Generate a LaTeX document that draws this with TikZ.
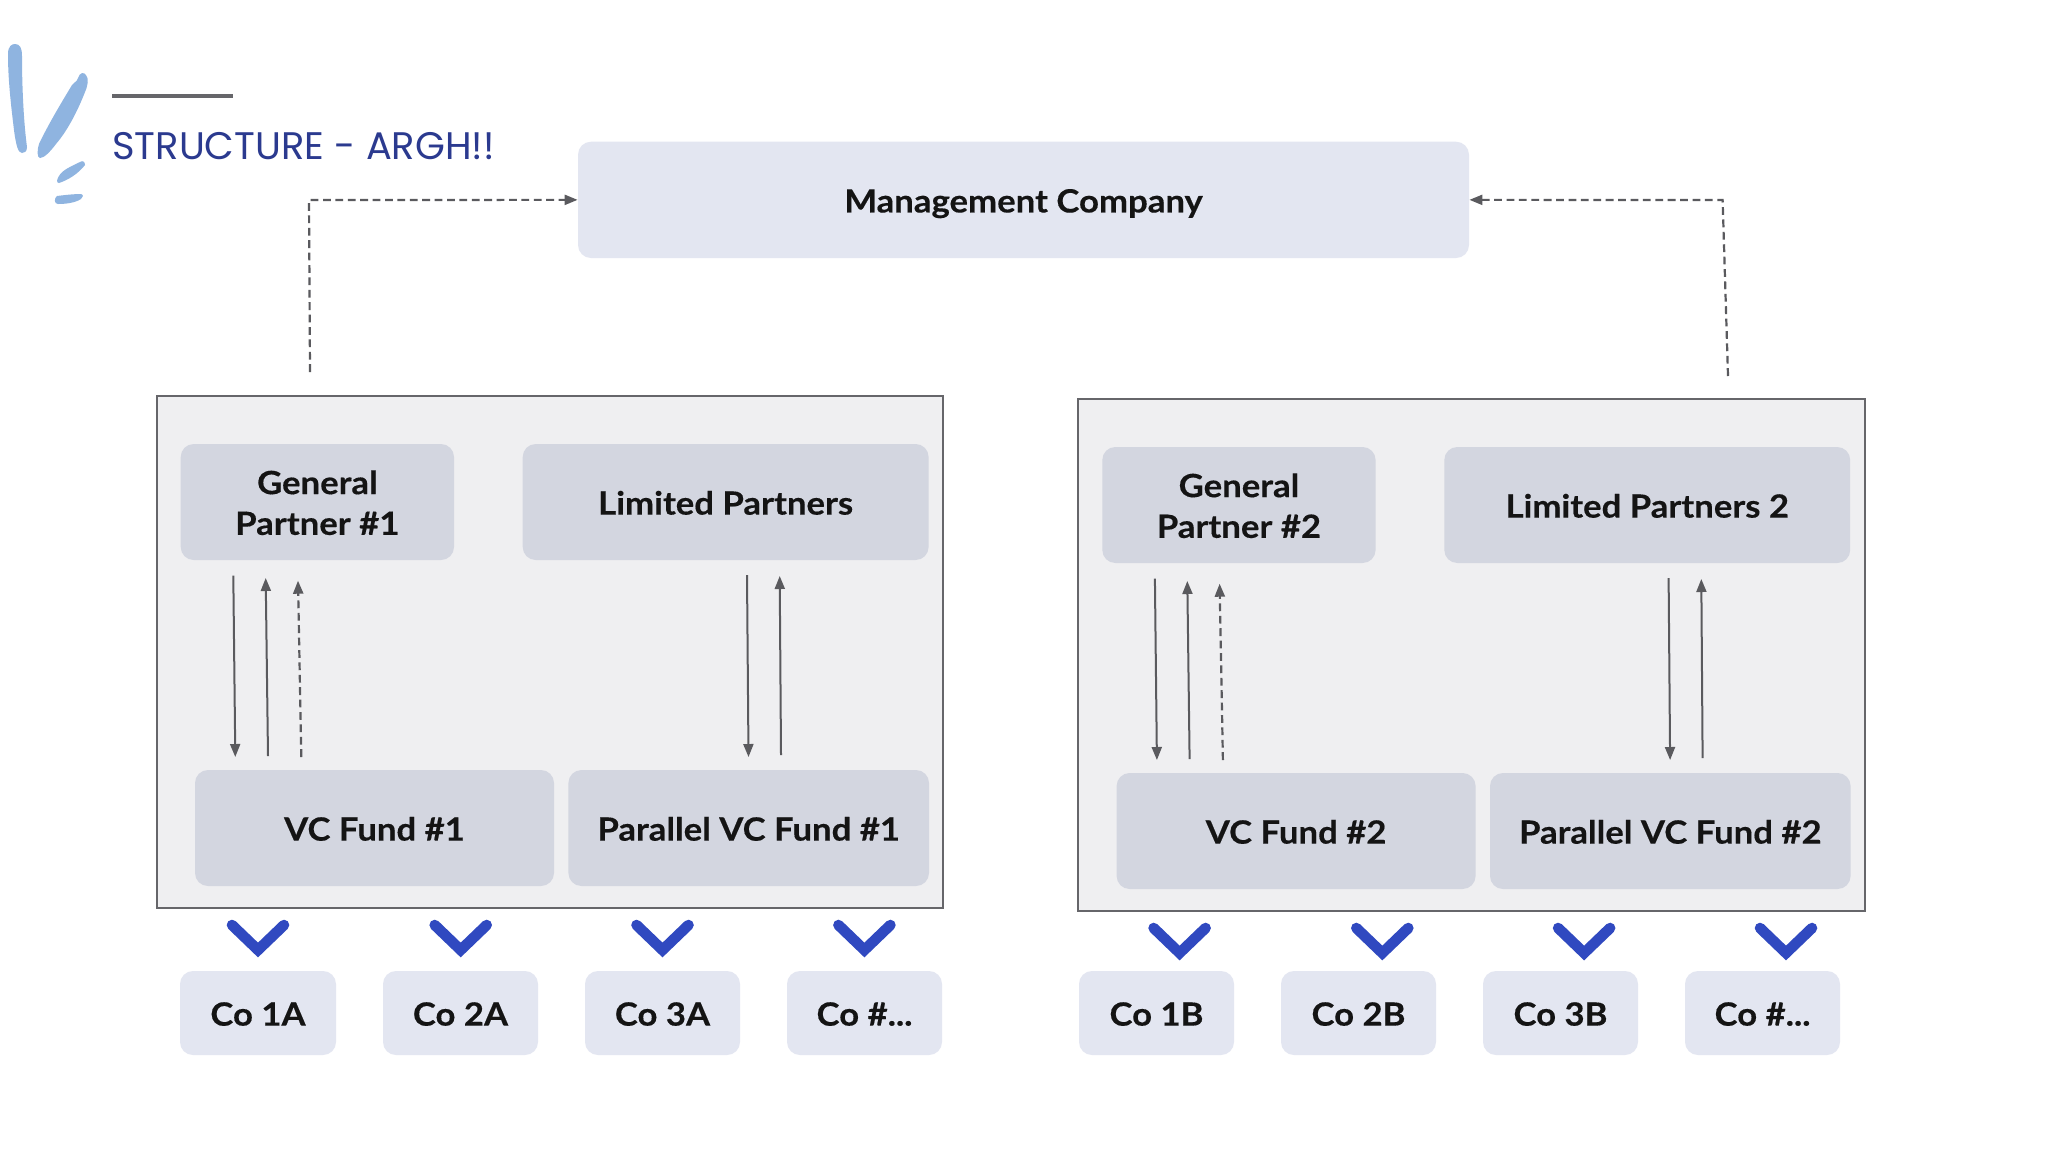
\documentclass[tikz,border=0pt]{standalone}
\usepackage{fontspec}
\setmainfont[BoldFeatures={FakeStretch=1.085,FakeBold=0.35}]{Lato}
\newfontfamily\titlefont{Poppins}
\usetikzlibrary{arrows.meta}
\definecolor{lightbox}{HTML}{E3E6F1}
\definecolor{midbox}{HTML}{D3D6E0}
\definecolor{framefill}{HTML}{EFEFF1}
\definecolor{framedraw}{HTML}{66666A}
\definecolor{chev}{HTML}{3049C0}
\definecolor{conn}{HTML}{5A5A5E}
\definecolor{scrib}{HTML}{8FB4E0}
\definecolor{titleblue}{HTML}{2B3A8F}
\tikzset{
  lbl/.style={font=\fontsize{16}{20.35}\selectfont\bfseries,text=black!92,align=center,inner sep=0pt,rounded corners=6.5pt},
  oneline/.style={text height=12.6pt,text depth=0pt},
  cobox/.style={lbl,oneline,fill=lightbox},
  inbox/.style={lbl,oneline,fill=midbox},
  twobox/.style={lbl,fill=midbox},
  frame/.style={draw=framedraw,fill=framefill,line width=0.9pt,inner sep=0pt},
  solidarrow/.style={draw=conn,line width=1pt,-{Triangle[length=6.5pt,width=5pt]}},
  dasharrow/.style={draw=conn,line width=1.1pt,dash pattern=on 3.9pt off 2.3pt,-{Triangle[length=6.5pt,width=5pt]}},
  chevron/.style={draw=chev,line width=5.3pt,line cap=round,line join=miter},
  scribble/.style={fill=scrib,draw=none}
}
\newcommand\bx[7]{\node[#2,minimum width={(#5-#3)*0.5pt},minimum height={(#6-#4)*0.5pt}] (#1) at ({(#3+#5)/2},{(#4+#6)/2}) {#7};}
\newcommand\chv[2]{\draw[chevron] (#1-26,#2-25) -- (#1,#2) -- (#1+26,#2-25);}
\newcommand\arw[6]{\coordinate (#1s) at (#3,#4); \coordinate (#1e) at (#5,#6); \draw[#2] (#1s) -- (#1e);}
\newcommand\fundgroup[2]{%
  \bx{frame#1}{frame}{156.7}{396}{943}{908}{}
  \bx{gp#1}{twobox}{180.7}{444}{454}{560}{\rule{0pt}{12.6pt}General\\Partner \##1}
  \bx{lp#1}{inbox}{522.7}{444}{928.6}{560}{#2}
  \bx{vc#1}{inbox}{195}{770}{554}{886}{VC Fund \##1}
  \bx{pv#1}{inbox}{568.4}{770}{929}{886}{Parallel VC Fund \##1}
  \arw{a#1}{solidarrow}{233.3}{575.7}{235.3}{757}
  \arw{b#1}{solidarrow}{268}{756}{265.7}{578}
  \arw{c#1}{dasharrow}{301.3}{757}{298}{580.7}
  \arw{d#1}{solidarrow}{747}{575}{748.5}{757}
  \arw{f#1}{solidarrow}{781}{755}{779.7}{576}
  \chv{258}{950}\chv{460.7}{950}\chv{662.5}{950}\chv{864.4}{950}
}
\begin{document}
\begin{tikzpicture}[x=0.5pt,y=-0.5pt]
\useasboundingbox[fill=white] (0,0) rectangle (2048,1152);
% scribble
\fill[scribble] (8,54) .. controls (8,46) and (12,44) .. (15,44) .. controls (20,44) and (22,48) .. (22,56) .. controls (22,90) and (24,125) .. (27,147) .. controls (27,152) and (24,153) .. (22,153) .. controls (18,153) and (16,145) .. (14,130) .. controls (11,105) and (8,80) .. cycle;
\fill[scribble] (78,78) .. controls (80,72) and (84,72) .. (86,75) .. controls (89,79) and (88,85) .. (85,92) .. controls (78,110) and (68,130) .. (56,144) .. controls (50,152) and (44,158) .. (40,158) .. controls (37,158) and (37,150) .. (39,144) .. controls (48,125) and (60,105) .. (72,85) .. controls (74,82) and (77,82) .. cycle;
\fill[scribble] (80,162) .. controls (83,160) and (85,162) .. (85,165) .. controls (78,174) and (68,180) .. (59,183) .. controls (56,183) and (57,179) .. (59,176) .. controls (62,170) and (72,166) .. cycle;
\fill[scribble] (57,196) .. controls (65,195) and (74,194) .. (81,194) .. controls (84,195) and (83,197) .. (81,199) .. controls (75,203) and (65,204) .. (58,204) .. controls (54,204) and (54,198) .. cycle;
% heading
\fill[framedraw] (112,94) rectangle (233,98);
\node[anchor=base west,inner sep=0pt,text=titleblue,font=\titlefont\fontsize{19.2}{23}\selectfont] (title) at (112,159.5) {STRUCTURE - ARGH!!};
% management
\bx{mc}{cobox}{578}{141.7}{1469}{258}{Management Company}
\coordinate (lstart) at (310,372);
\coordinate (lcorner) at (309,200);
\coordinate (rstart) at (1728,376);
\coordinate (rcorner) at (1722.6,200);
\draw[dasharrow] (lstart) -- (lcorner) -- (mc.west);
\draw[dasharrow] (rstart) -- (rcorner) -- (mc.east);
% groups
\fundgroup{1}{Limited Partners}
\begin{scope}[shift={(921.6,3)}]
\fundgroup{2}{Limited Partners 2}
\end{scope}
% companies
\bx{ca}{cobox}{180}{971}{336}{1055}{Co 1A}
\bx{cb}{cobox}{383}{971}{538}{1055}{Co 2A}
\bx{cc}{cobox}{585}{971}{740}{1055}{Co 3A}
\bx{cd}{cobox}{787}{971}{942}{1055}{Co \#...}
\bx{ce}{cobox}{1079}{971}{1234}{1055}{Co 1B}
\bx{cf}{cobox}{1281}{971}{1436}{1055}{Co 2B}
\bx{cg}{cobox}{1483}{971}{1638}{1055}{Co 3B}
\bx{ch}{cobox}{1685}{971}{1840}{1055}{Co \#...}
\end{tikzpicture}
\end{document}
